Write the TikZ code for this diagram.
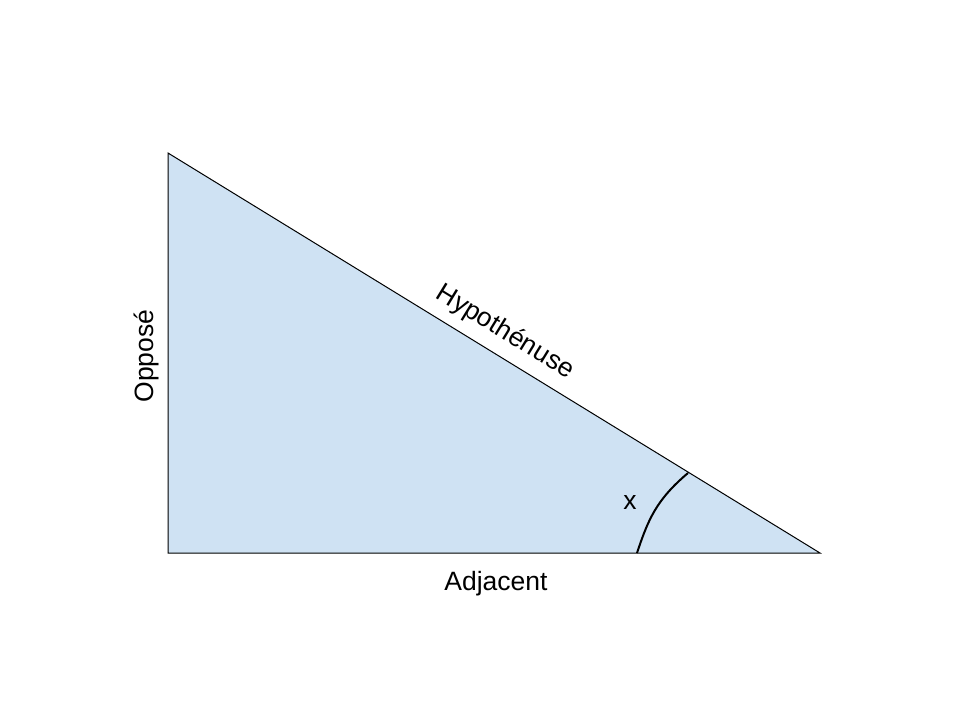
\documentclass[tikz,border=0pt]{standalone}
\usepackage{fontspec}
\setmainfont{Liberation Sans}
\begin{document}
\begin{tikzpicture}[x=1pt,y=-1pt,
  lbl/.style={font=\fontsize{26.5}{30}\selectfont, inner sep=0pt, text=black}]
\useasboundingbox (0,0) rectangle (960,720);
\coordinate (A) at (168,153);
\coordinate (B) at (168,553);
\coordinate (C) at (820,553);
\fill[fill={rgb,255:red,207;green,226;blue,243}] (A) -- (B) -- (C) -- cycle;
\draw[line width=1pt] (A) -- (B) -- (C) -- cycle;
\coordinate (P) at (637,553);
\coordinate (Q) at (688,473);
\draw[line width=2pt] (P) .. controls (648,520) and (656,500) .. (Q);
\node[lbl, rotate=-31.5] (hyp) at (505,332) {Hypothénuse};
\node[lbl, rotate=90] (opp) at (146,356) {Opposé};
\node[lbl] (adj) at (496,584) {Adjacent};
\node[lbl] (x) at (630,502) {x};
\end{tikzpicture}
\end{document}
